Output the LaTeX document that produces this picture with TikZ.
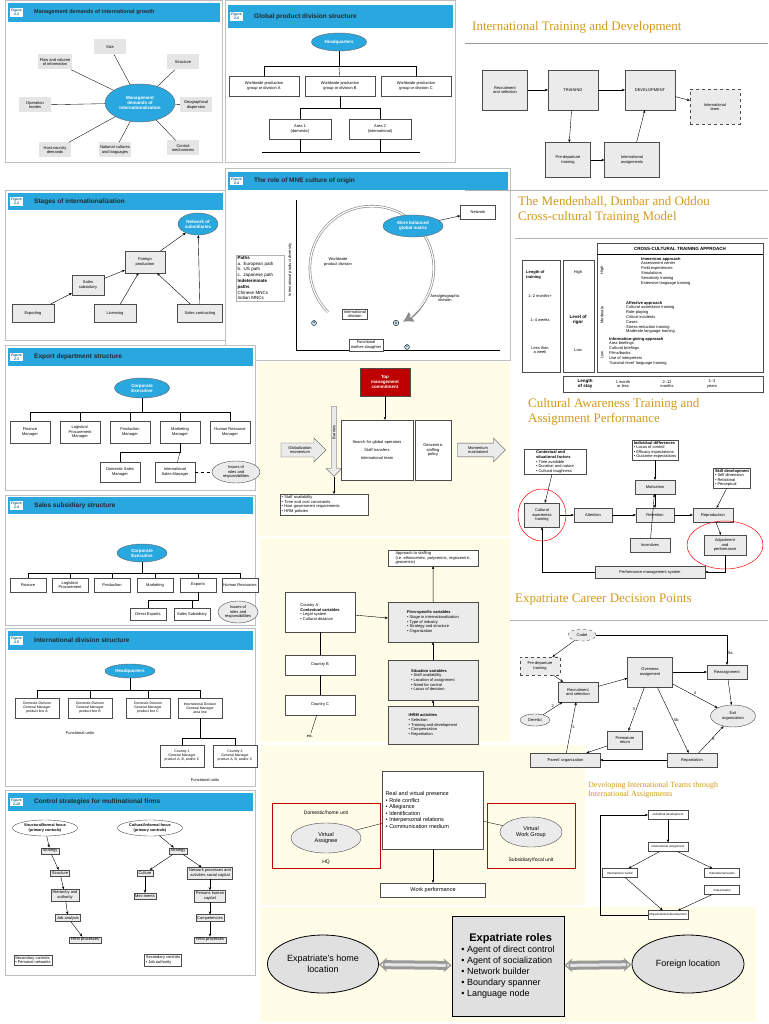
\documentclass[tikz,border=0pt]{standalone}
\usepackage{fontspec}
\setmainfont{Liberation Sans}
\newfontfamily\ttl{Liberation Serif}
\usetikzlibrary{shapes.geometric,shapes.arrows,arrows.meta,positioning}
\definecolor{figblue}{HTML}{29A8E0}
\definecolor{ttlc}{HTML}{D49A1A}
\definecolor{pane}{HTML}{FFFDE8}
\tikzset{
 b/.style={draw=black!70, fill=black!8, font=\fontsize{4}{4.6}\selectfont, align=center, inner sep=1.5pt, line width=0.3pt},
 w/.style={b, fill=white},
 hq/.style={ellipse, draw=black!60, fill=figblue, text=white, font=\fontsize{4.5}{5}\selectfont\bfseries, align=center, inner sep=1pt},
 el/.style={ellipse, draw=black!70, fill=black!8, font=\fontsize{4}{4.6}\selectfont, align=center, inner sep=1pt},
 t/.style={font=\fontsize{4}{4.6}\selectfont, align=center, inner sep=1pt},
 tl/.style={font=\fontsize{4}{4.8}\selectfont, align=left, inner sep=1pt},
 ttlS/.style={font=\ttl\fontsize{13}{15}\selectfont, text=ttlc, anchor=west, align=left, inner sep=0pt},
 ar/.style={-{Stealth[length=3pt,width=2.5pt]}, line width=0.4pt},
 ln/.style={line width=0.35pt},
 hd/.style={fill=figblue},
 tag/.style={fill=white, font=\fontsize{3.5}{4}\selectfont\bfseries\itshape, align=center, inner sep=1pt, text=figblue!60!black},
 htx/.style={font=\fontsize{6.5}{7}\selectfont\bfseries, text=black!85, anchor=west, inner sep=0pt},
 pan/.style={fill=white, draw=black!25, line width=0.3pt}
}
\newcommand{\hdrbar}[7]{%
 \fill[hd] (#1,#2) rectangle (#3,#4);
 \node[tag, anchor=west] (#7t) at (#1+2,{(#2+#4)/2}) {Figure\\#5};
 \node[htx] (#7) at (#1+26,{(#2+#4)/2}) {#6};}
\begin{document}
\begin{tikzpicture}[x=1pt,y=-1pt]
\useasboundingbox (0,0) rectangle (768,1024);
\fill[white] (0,0) rectangle (768,1024);
% panels
\draw[pan] (5,0) rectangle (222,162);
\draw[pan] (225,0) rectangle (455,162);
\draw[pan] (5,190) rectangle (225,340);
\draw[pan] (225,168) rectangle (510,360);
\draw[pan] (5,345) rectangle (255,490);
\fill[pane] (258,362) rectangle (510,536);
\draw[pan] (5,495) rectangle (255,625);
\fill[pane] (260,538) rectangle (510,742);
\draw[pan] (5,628) rectangle (255,786);
\draw[pan] (5,790) rectangle (255,975);
\fill[pane] (260,745) rectangle (585,905);
\fill[pane] (260,907) rectangle (756,1022);

%% Fig 2-1
\hdrbar{8}{3}{220}{22}{2-1}{\fontsize{5.5}{6}\selectfont Management demands of international growth}{h21}
\node[hq, minimum width=70pt, minimum height=38pt] (m21) at (140,103) {Management\\demands of\\internationalization};
\foreach \n/\x/\y/\s in {a/110/47/Size, b/183/62/Structure, c/196/105/{Geographical\\dispersion}, d/183/148/{Control\\mechanisms}, e/115/150/{National cultures\\and languages}, f/55/150/{Host-country\\demands}, g/35/105/{Operation\\modes}, h/55/62/{Flow and volume\\of information}}{
 \node[b, draw=none, fill=black!10, minimum width=32pt, minimum height=15pt] (x\n) at (\x,\y) {\s};
 \draw[ln] (m21) -- (x\n);}

%% Fig 2-6
\hdrbar{228}{5}{453}{28}{2-6}{Global product division structure}{h26}
\node[hq, minimum width=55pt, minimum height=18pt] (hq26) at (339,42) {Headquarters};
\node[w, minimum width=70pt, minimum height=20pt] (pa) at (264,86) {Worldwide production\\group or division A};
\node[w, minimum width=70pt, minimum height=20pt] (pb) at (340,86) {Worldwide production\\group or division B};
\node[w, minimum width=70pt, minimum height=20pt] (pc) at (416,86) {Worldwide production\\group or division C};
\node[w, minimum width=62pt, minimum height=20pt] (ar1) at (300,129) {Area 1\\(domestic)};
\node[w, minimum width=62pt, minimum height=20pt] (ar2) at (380,129) {Area 2\\(international)};
\coordinate (j26) at (339,66); \coordinate (j26b) at (340,108);
\draw[ln] (hq26) -- (j26) -| (pa); \draw[ln] (j26) -| (pc); \draw[ln] (j26) -- (pb);
\draw[ln] (pb) -- (j26b) -| (ar1); \draw[ln] (j26b) -| (ar2);
\draw[ln] (ar1.south) -- ++(0,14); \draw[ln] (ar2.south) -- ++(0,14);
\draw[ln] (262,152) -- (420,152);

%% International Training and Development
\node[ttlS] (tt1) at (472,27) {International Training and Development};
\draw[black!40] (465,43) -- (768,43);
\draw[black!30] (465,190) -- (768,190);
\node[b, minimum width=45pt, minimum height=40pt] (rs) at (505,90) {Recruitment\\and selection};
\node[b, minimum width=50pt, minimum height=40pt] (tr) at (573,90) {TRAINING};
\node[b, minimum width=50pt, minimum height=40pt] (dv) at (650,90) {DEVELOPMENT};
\node[b, dashed, minimum width=50pt, minimum height=35pt] (it) at (715,107) {International\\team};
\node[b, minimum width=45pt, minimum height=35pt] (pd) at (568,160) {Pre-departure\\training};
\node[b, minimum width=55pt, minimum height=35pt] (ia) at (632,160) {International\\assignments};
\draw[ar] (rs) -- (tr); \draw[ar] (tr) -- (dv); \draw[ar] (dv) -- (it);
\draw[ar] (tr) -- (pd); \draw[ar] (pd) -- (ia); \draw[ar] (ia) -- (dv);

%% Fig 2-2
\hdrbar{8}{193}{223}{210}{2-2}{Stages of internationalization}{h22}
\node[hq, minimum width=40pt, minimum height=22pt] (ns) at (198,224) {Network of\\subsidiaries};
\node[b, minimum width=40pt, minimum height=22pt] (fp) at (145,262) {Foreign\\production};
\node[b, minimum width=32pt, minimum height=20pt] (ss) at (88,285) {Sales\\subsidiary};
\node[b, minimum width=42pt, minimum height=18pt] (ex) at (33,313) {Exporting};
\node[b, minimum width=42pt, minimum height=18pt] (lc) at (115,313) {Licensing};
\node[b, minimum width=45pt, minimum height=18pt] (sc) at (200,313) {Sales contracting};
\draw[ar] (ex) -- (ss); \draw[ar] (ss) -- (fp); \draw[ar] (fp) -- (ns);
\draw[ar] (lc) -- (fp); \draw[ar] (sc) -- (fp); \draw[ar] (sc) -- (ns);

%% Fig 2-8
\hdrbar{228}{172}{508}{190}{2-8}{The role of MNE culture of origin}{h28}
\draw[black!45, -{Latex[length=10pt,width=12pt]}, line width=2.5pt] (328,312) arc (135:420:62);
\draw[white, line width=1.2pt] (328,312) arc (135:412:62);
\node[hq, minimum width=60pt, minimum height=22pt] (mb) at (413,226) {More balanced\\global matrix};
\node[w, minimum width=35pt, minimum height=14pt] (nw) at (478,212) {Network};
\draw[ar] (mb) -- (nw);
\node[b, fill=white, draw=black!30, align=left, text width=45pt, font=\fontsize{4.5}{5.6}\selectfont] (pth) at (260,278) {\textbf{Paths}\\a. European path\\b. US path\\c. Japanese path\\[1pt]\textbf{Indeterminate}\\\textbf{paths}\\Chinese MNCs\\Indian MNCs};
\node[t, rotate=90] (ipd) at (290,270) {International product diversity};
\draw[ln] (296,200) -- (296,350) -- (500,350);
\node[t] (wpd) at (338,262) {Worldwide\\product division};
\node[t] (agd) at (445,298) {Area/geographic\\division};
\node[b, fill=white] (idv) at (355,314) {International\\division};
\node[b, fill=white] (fmd) at (366,345) {Functional\\mother--daughter};
\foreach \n/\x/\y in {a/314/323, b/396/323, c/407/347}{\node[circle, draw, fill=figblue!30, inner sep=0.8pt, font=\fontsize{3.5}{4}\selectfont] (c\n) at (\x,\y) {\n};}

%% Mendenhall
\node[ttlS] (tt2) at (518,210) {The Mendenhall, Dunbar and Oddou\\Cross-cultural Training Model};
\draw[black!30] (515,238) -- (768,238);
\draw[black!70, line width=0.3pt] (597,243) rectangle (763,372);
\node[t, font=\fontsize{4.5}{5}\selectfont\bfseries] (cct) at (680,249) {CROSS-CULTURAL TRAINING APPROACH};
\draw[ln] (597,254) -- (763,254);
\node[tl, anchor=north west] (imm) at (640,256) {\textbf{Immersion approach}\\Assessment center\\Field experiences\\Simulations\\Sensitivity training\\Extensive language training};
\node[tl, anchor=north west] (aff) at (625,300) {\textbf{Affective approach}\\Cultural assimilator training\\Role-playing\\Critical incidents\\Cases\\Stress-reduction training\\Moderate language training};
\node[tl, anchor=north west] (inf) at (608,336) {\textbf{Information-giving approach}\\Area briefings\\Cultural briefings\\Films/books\\Use of interpreters\\`Survival-level' language training};
\node[t, rotate=90] (hi) at (602,270) {High}; \node[t, rotate=90] (md) at (602,315) {Moderate}; \node[t, rotate=90] (lo) at (602,355) {Low};
\draw[black!70, line width=0.3pt] (522,260) rectangle (560,372);
\node[tl, anchor=west] (lt) at (525,275) {\textbf{Length of}\\\textbf{training}};
\node[t] (r1) at (540,296) {1--2 months+}; \node[t] (r2) at (540,320) {1--4 weeks}; \node[t] (r3) at (540,350) {Less than\\a week};
\draw[black!70, line width=0.3pt] (563,260) rectangle (594,372);
\node[t] (hh) at (578,272) {High}; \node[t, font=\fontsize{4.5}{5}\selectfont\bfseries] (lr) at (578,320) {Level of\\rigor}; \node[t] (ll) at (578,350) {Low};
\draw[black!70, line width=0.3pt] (563,376) rectangle (763,392);
\node[t, font=\fontsize{4.5}{5}\selectfont\bfseries] (ls) at (585,384) {Length\\of stay};
\node[t] (s1) at (623,384) {1 month\\or less}; \node[t] (s2) at (667,384) {2--12\\months}; \node[t] (s3) at (712,384) {1--3\\years};

%% centre panel 1
\node[b, fill=red!75!black, text=white, font=\fontsize{4.5}{5}\selectfont\bfseries, minimum width=50pt, minimum height=28pt] (tmc) at (385,382) {Top\\management\\commitment};
\node[b, shape=single arrow, single arrow head extend=4pt, minimum height=45pt, minimum width=24pt] (gm) at (300,450) {Globalization\\momentum};
\node[b, shape=single arrow, shape border rotate=270, single arrow head extend=3pt, minimum height=70pt, minimum width=16pt] (bar) at (334,440) {};
\node[t, rotate=90] (barl) at (334,432) {Barriers};
\node[b, fill=white, minimum width=72pt, minimum height=60pt, text width=68pt] (sgo) at (377,450) {Search for global operators\\[3pt]Staff transfers\\[3pt]International team};
\node[b, fill=white, minimum width=36pt, minimum height=60pt] (gsp) at (433,450) {Geocentric\\staffing\\policy};
\node[b, shape=single arrow, single arrow head extend=4pt, minimum height=48pt, minimum width=24pt] (mm) at (478,450) {Momentum\\maintained};
\draw[ar] (tmc) -- (sgo.north -| tmc);
\node[b, fill=white, align=left, text width=85pt, anchor=north west] (lst) at (280,494) {• Staff availability\\• Time and cost constraints\\• Host government requirements\\• HRM policies};
\draw[ar] (bar.south) -- (lst.north -| bar);

%% Cultural Awareness
\node[ttlS] (tt3) at (528,412) {Cultural Awareness Training and\\Assignment Performance};
\node[b, fill=white, align=left, minimum width=62pt] (ctx) at (555,462) {\textbf{Contextual and}\\\textbf{situational factors}\\• Time available\\• Duration and nature\\• Cultural toughness};
\node[b, fill=white, align=left] (ind) at (655,450) {\textbf{Individual differences}\\• Locus of control\\• Efficacy expectations\\• Outcome expectations};
\node[b, minimum width=40pt, minimum height=14pt] (mot) at (655,487) {Motivation};
\node[b, minimum width=35pt, minimum height=24pt] (cat) at (542,515) {Cultural\\awareness\\training};
\node[b, minimum width=38pt, minimum height=14pt] (att) at (593,515) {Attention};
\node[b, minimum width=38pt, minimum height=14pt] (ret) at (655,515) {Retention};
\node[b, minimum width=40pt, minimum height=14pt] (rep) at (713,515) {Reproduction};
\node[b, fill=white, align=left] (skd) at (732,478) {\textbf{Skill development}\\• Self dimension\\• Relational\\• Perceptual};
\node[b, minimum width=40pt, minimum height=14pt] (inc) at (650,545) {Incentives};
\node[b, minimum width=42pt, minimum height=20pt] (adj) at (725,545) {Adjustment\\and\\performance};
\node[b, minimum width=110pt, minimum height=12pt] (pms) at (650,572) {Performance management system};
\draw[red, line width=0.5pt] (cat) ellipse (24 and 26);
\draw[red, line width=0.5pt] (adj) ellipse (38 and 24);
\draw[ar] (cat) -- (att); \draw[ar] (att) -- (ret); \draw[ar] (ret) -- (rep); \draw[ar] (rep) -- (adj);
\draw[ar] (mot) -- (ret); \draw[ar] (ind) -- (mot); \draw[ar] (ctx) -- (cat); \draw[ar] (inc) -- (mot);
\draw[ar] (skd) -- (rep); \draw[ar] (pms) -| (cat); \draw[ar] (adj) |- (pms);

%% Fig 2-3
\hdrbar{8}{348}{253}{366}{2-3}{Export department structure}{h23}
\node[hq, minimum width=55pt, minimum height=20pt] (ce3) at (142,388) {Corporate\\Executive};
\foreach \n/\x/\s in {f/30/{Finance\\Manager}, l/80/{Logistics/\\Procurement\\Manager}, p/130/{Production\\Manager}, m/180/{Marketing\\Manager}, h/230/{Human Resource\\Manager}}{
 \node[w, minimum width=40pt, minimum height=22pt] (e\n) at (\x,432) {\s};
 \draw[ln] (ce3) |- (\x,412) -- (e\n);}
\node[w, minimum width=40pt, minimum height=20pt] (eds) at (120,472) {Domestic Sales\\Manager};
\node[w, minimum width=40pt, minimum height=20pt] (eis) at (175,472) {International\\Sales Manager};
\node[el, minimum width=48pt, minimum height=22pt] (eir) at (236,472) {Issues of\\roles and\\responsibilities};
\draw[ln] (em) -- (180,452) -| (eds); \draw[ln] (180,452) -- (eis);
\draw[ln, dashed] (eis) -- (eir);

%% Fig 2-4
\hdrbar{8}{497}{253}{514}{2-4}{Sales subsidiary structure}{h24}
\node[hq, minimum width=50pt, minimum height=18pt] (ce4) at (142,553) {Corporate\\Executive};
\foreach \n/\x/\s in {f/28/Finance, l/70/{Logistics/\\Procurement}, p/112/Production, m/155/Marketing/Sales, x/198/Exports, h/240/Human Resources}{
 \node[w, minimum width=36pt, minimum height=14pt] (s\n) at (\x,585) {\s};
 \draw[ln] (ce4) |- (\x,573) -- (s\n);}
\node[w, minimum width=36pt, minimum height=12pt] (sde) at (148,614) {Direct Exports};
\node[w, minimum width=36pt, minimum height=12pt] (ssu) at (192,614) {Sales Subsidiary};
\node[el, minimum width=36pt, minimum height=22pt] (sis) at (238,612) {Issues of\\roles and\\responsibilities};
\draw[ln] (sx) -- (198,600) -| (sde); \draw[ln] (198,600) -| (ssu);

%% centre panel 2
\node[b, fill=white, align=left, minimum width=90pt, anchor=north west] (aps) at (388,550) {Approach to staffing\\(i.e. ethnocentric, polycentric, regiocentric,\\geocentric)};
\node[b, fill=white, align=left, minimum width=70pt, minimum height=40pt] (cA) at (320,612) {Country A\\\textbf{Contextual variables}\\• Legal system\\• Cultural distance};
\node[b, fill=white, minimum width=70pt, minimum height=20pt] (cB) at (320,665) {Country B};
\node[b, fill=white, minimum width=70pt, minimum height=20pt] (cC) at (320,705) {Country C};
\node[t] (etc) at (310,736) {etc.};
\node[b, align=left, minimum width=90pt, minimum height=40pt] (fsv) at (433,622) {\textbf{Firm-specific variables}\\• Stage in internationalization\\• Type of industry\\• Strategy and structure\\• Organization};
\node[b, align=left, minimum width=90pt, minimum height=40pt] (siv) at (433,680) {\textbf{Situation variables}\\• Staff availability\\• Location of assignment\\• Need for control\\• Locus of decision};
\node[b, align=left, minimum width=90pt, minimum height=38pt] (ihr) at (433,725) {\textbf{IHRM activities}\\• Selection\\• Training and development\\• Compensation\\• Repatriation};
\draw[ar] (cA) -- (fsv); \draw[ar] (fsv) -- (aps); \draw[ar] (siv) -- (fsv); \draw[ar] (ihr) -- (siv);
\draw[ln] (cA) -- (cB); \draw[ln] (cB) -- (cC); \draw[ln] (cC) -- (etc);

%% Expatriate Career Decision Points
\node[ttlS] (tt4) at (515,600) {Expatriate Career Decision Points};
\draw[black!30] (510,620) -- (768,620);
\node[el, dashed, minimum width=28pt, minimum height=12pt] (cad) at (582,635) {Cadet};
\node[b, dashed, minimum width=40pt, minimum height=18pt] (pdt) at (540,666) {Pre-departure\\training};
\node[b, minimum width=40pt, minimum height=20pt] (rsl) at (578,692) {Recruitment\\and selection};
\node[b, minimum width=45pt, minimum height=30pt] (osa) at (650,672) {Overseas\\assignment};
\node[b, minimum width=40pt, minimum height=14pt] (rea) at (727,672) {Reassignment};
\node[el, minimum width=45pt, minimum height=22pt] (exo) at (733,716) {Exit\\organization};
\node[el, minimum width=30pt, minimum height=12pt] (der) at (535,720) {Derelict};
\node[b, minimum width=35pt, minimum height=18pt] (prr) at (625,740) {Premature\\return};
\node[b, minimum width=70pt, minimum height=14pt] (par) at (565,760) {`Parent' organization};
\node[b, minimum width=50pt, minimum height=14pt] (rep2) at (692,760) {Repatriation};
\draw[ar] (cad) -- (pdt); \draw[ar] (pdt) -- (rsl); \draw[ar] (rsl) -- (osa); \draw[ar] (osa) -- (rea);
\draw[ar] (osa) -- node[t, above]{4} (exo); \draw[ar] (osa) -- node[t, left]{3} (prr); \draw[ar] (rea) -- (exo);
\draw[ar] (cad) -| node[t, pos=0.8, right]{5a} (rea);
\draw[ar] (der) -- node[t, above]{2} (rsl); \draw[ar] (par) -- node[t, right]{1} (rsl);
\draw[ar] (prr) -- (par); \draw[ar] (rep2) -- (par); \draw[ar] (osa) -- node[t, right]{5b} (rep2); \draw[ar] (rep2) -- node[t, right]{6} (exo);

%% Developing International Teams
\node[font=\ttl\fontsize{8}{9.5}\selectfont, text=ttlc, anchor=west, align=left, inner sep=0pt] (tt5) at (588,790) {Developing International Teams through\\International Assignments};
\node[w, minimum width=40pt, minimum height=9pt, font=\fontsize{3}{3.5}\selectfont] (idv2) at (668,815) {Individual development};
\node[w, minimum width=40pt, minimum height=9pt, font=\fontsize{3}{3.5}\selectfont] (ias) at (668,847) {International assignment};
\node[w, minimum width=35pt, minimum height=9pt, font=\fontsize{3}{3.5}\selectfont] (icd) at (620,873) {International `cadre'};
\node[w, minimum width=35pt, minimum height=9pt, font=\fontsize{3}{3.5}\selectfont] (itm) at (722,873) {International teams};
\node[w, minimum width=35pt, minimum height=9pt, font=\fontsize{3}{3.5}\selectfont] (vtm) at (722,890) {Virtual teams};
\node[w, minimum width=40pt, minimum height=9pt, font=\fontsize{3}{3.5}\selectfont] (odv) at (668,915) {Organizational development};
\draw[ar] (idv2) -- (ias); \draw[ar] (ias) -- (icd); \draw[ar] (ias) -- (itm); \draw[ar] (icd) -- (odv); \draw[ar] (vtm) -- (odv); \draw[ar] (odv.west) -| (600,815) -- (idv2);

%% Fig 2-5
\hdrbar{8}{631}{253}{650}{2-5}{International division structure}{h25}
\node[hq, minimum width=50pt, minimum height=14pt] (hq25) at (130,671) {Headquarters};
\foreach \n/\x/\s in {1/37/{Domestic Division\\General Manager\\product line A}, 2/90/{Domestic Division\\General Manager\\product line B}, 3/148/{Domestic Division\\General Manager\\product line C}, 4/200/{International Division\\General Manager\\area line}}{
 \node[w, minimum width=44pt, minimum height=20pt, font=\fontsize{3.5}{4}\selectfont] (d\n) at (\x,708) {\s};
 \draw[ln] (hq25) |- (\x,690) -- (d\n);}
\node[t] (fu1) at (80,733) {Functional units};
\node[w, minimum width=44pt, minimum height=22pt, font=\fontsize{3.5}{4}\selectfont] (co1) at (182,756) {Country 1\\General Manager\\product A, B, and/or C};
\node[w, minimum width=44pt, minimum height=22pt, font=\fontsize{3.5}{4}\selectfont] (co2) at (235,756) {Country 2\\General Manager\\product A, B, and/or C};
\draw[ln] (d4) -- (200,738) -| (co1); \draw[ln] (200,738) -| (co2);
\node[t] (fu2) at (205,780) {Functional units};

%% Fig 2-10
\hdrbar{8}{793}{253}{811}{2-10}{Control strategies for multinational firms}{h210}
\node[el, fill=white, minimum width=65pt, minimum height=16pt, font=\fontsize{3.8}{4.4}\selectfont\bfseries] (sff) at (45,828) {Structural/formal focus\\(primary controls)};
\node[el, fill=white, minimum width=65pt, minimum height=16pt, font=\fontsize{3.8}{4.4}\selectfont\bfseries] (cif) at (150,828) {Cultural/informal focus\\(primary controls)};
\node[b] (st1) at (50,851) {Strategy};
\node[b] (st2) at (60,873) {Structure};
\node[b] (hia) at (65,895) {Hierarchy and\\authority};
\node[b] (jan) at (68,918) {Job analysis};
\node[b] (hp1) at (85,940) {HRM processes};
\node[b, align=left, fill=white] (sc1) at (33,960) {Secondary controls\\• Personal networks};
\node[b] (st3) at (178,851) {Strategy};
\node[b] (cul) at (145,873) {Culture};
\node[b] (npr) at (210,873) {Network processes and\\activities social capital};
\node[b] (mnm) at (145,896) {Mini-meets};
\node[b] (phc) at (210,896) {Persons human\\capital};
\node[b] (cmp) at (210,918) {Competencies};
\node[b] (hp2) at (210,940) {HRM processes};
\node[b, align=left, fill=white] (sc2) at (163,960) {Secondary controls\\• Job authority};
\draw[ar] (sff) -- (st1); \draw[ar] (st1) -- (st2); \draw[ar] (st2) -- (hia); \draw[ar] (hia) -- (jan); \draw[ar] (jan) -- (hp1);
\draw[ar] (cif) -- (st3); \draw[ar] (st3) -- (cul); \draw[ar] (st3) -- (npr); \draw[ar] (cul) -- (mnm); \draw[ar] (npr) -- (phc); \draw[ar] (phc) -- (cmp); \draw[ar] (cmp) -- (hp2);

%% Virtual assignee panel
\draw[red!75!black, line width=1pt] (272,803) rectangle (380,868);
\node[t, font=\fontsize{5}{6}\selectfont] (dhu) at (326,813) {Domestic/home unit};
\node[el, minimum width=70pt, minimum height=30pt, font=\fontsize{5.5}{6.5}\selectfont] (vas) at (326,838) {Virtual\\Assignee};
\node[t, font=\fontsize{5}{6}\selectfont] (hqt) at (326,862) {HQ};
\draw[red!75!black, line width=1pt] (487,803) rectangle (575,868);
\node[el, minimum width=62pt, minimum height=30pt, font=\fontsize{5.5}{6.5}\selectfont] (vwg) at (531,832) {Virtual\\Work Group};
\node[t, font=\fontsize{5}{6}\selectfont] (sfu) at (531,860) {Subsidiary/focal unit};
\node[draw=black!70, fill=white, line width=0.4pt, align=left, text width=95pt, minimum height=78pt, font=\fontsize{5.5}{6.6}\selectfont, inner sep=3pt] (rvp) at (433,810) {Real and virtual presence\\• Role conflict\\• Allegiance\\• Identification\\• Interpersonal relations\\• Communication medium};
\node[draw=black!70, fill=white, minimum width=105pt, minimum height=14pt, font=\fontsize{5.5}{6.5}\selectfont] (wpf) at (433,890) {Work performance};
\draw[ln] (vas) -- (rvp); \draw[ln] (vwg) -- (rvp); \draw[ar] (rvp) -- (wpf);

%% Expatriate roles
\node[ellipse, draw=black, line width=0.8pt, fill=black!12, minimum width=108pt, minimum height=58pt, font=\fontsize{9}{11}\selectfont, align=center] (ehl) at (323,964) {Expatriate's home\\location};
\node[draw=black, line width=0.8pt, fill=black!12, minimum width=112pt, minimum height=100pt, align=left, font=\fontsize{9}{11}\selectfont, inner sep=4pt] (err) at (508,966) {\fontsize{11}{13}\selectfont\bfseries\hspace*{8pt}Expatriate roles\\• Agent of direct control\\• Agent of socialization\\• Network builder\\• Boundary spanner\\• Language node};
\node[ellipse, draw=black, line width=0.8pt, fill=black!12, minimum width=112pt, minimum height=58pt, font=\fontsize{9}{11}\selectfont, align=center] (fl) at (688,964) {Foreign location};
\draw[{Stealth[length=8pt,width=14pt,open]}-{Stealth[length=8pt,width=14pt,open]}, line width=3pt, black!40, double=black!10, double distance=3pt] (ehl) -- (err);
\draw[{Stealth[length=8pt,width=14pt,open]}-{Stealth[length=8pt,width=14pt,open]}, line width=3pt, black!40, double=black!10, double distance=3pt] (err) -- (fl);
\end{tikzpicture}
\end{document}
